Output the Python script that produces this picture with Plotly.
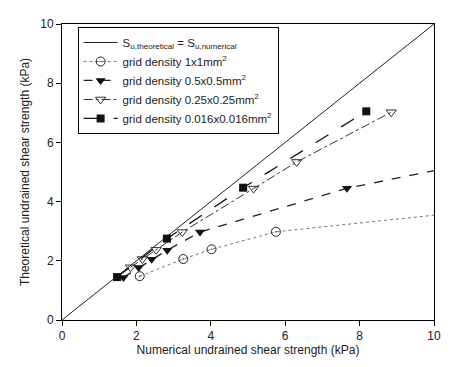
import plotly.graph_objects as go

ref_x = [0, 10]
ref_y = [0, 10]

g1_x = [2.09, 3.26, 4.02, 5.75, 10.6]
g1_y = [1.48, 2.06, 2.39, 2.98, 3.62]

g05_x = [1.65, 2.06, 2.41, 2.83, 3.71, 7.66, 10.6]
g05_y = [1.44, 1.77, 2.05, 2.36, 2.97, 4.45, 5.2]

g025_x = [1.84, 2.16, 2.53, 3.23, 5.15, 6.31, 8.85]
g025_y = [1.78, 2.06, 2.37, 2.97, 4.44, 5.34, 7.02]

g016_x = [1.48, 2.82, 4.87, 8.18]
g016_y = [1.45, 2.75, 4.47, 7.05]

fig = go.Figure()
fig.add_trace(go.Scatter(x=ref_x, y=ref_y, mode="lines",
                         line=dict(color="#222", width=1),
                         name="S<sub>u,theoretical</sub> = S<sub>u,numerical</sub>"))
fig.add_trace(go.Scatter(x=g1_x, y=g1_y, mode="lines+markers",
                         line=dict(color="#777", width=1, dash="dot"),
                         marker=dict(symbol="circle-open-dot", size=9, color="#222", line=dict(width=1)),
                         name="grid density 1x1mm<sup>2</sup>"))
fig.add_trace(go.Scatter(x=g05_x, y=g05_y, mode="lines+markers",
                         line=dict(color="#222", width=1.3, dash="dash"),
                         marker=dict(symbol="triangle-down", size=9, color="#111"),
                         name="grid density 0.5x0.5mm<sup>2</sup>"))
fig.add_trace(go.Scatter(x=g025_x, y=g025_y, mode="lines+markers",
                         line=dict(color="#333", width=1, dash="dashdot"),
                         marker=dict(symbol="triangle-down-open", size=9, color="#333", line=dict(width=1)),
                         name="grid density 0.25x0.25mm<sup>2</sup>"))
fig.add_trace(go.Scatter(x=g016_x, y=g016_y, mode="lines+markers",
                         line=dict(color="#111", width=1.3, dash="longdash"),
                         marker=dict(symbol="square", size=8, color="#111"),
                         name="grid density 0.016x0.016mm<sup>2</sup>"))

axis_common = dict(range=[0, 10], dtick=2, showgrid=False, zeroline=False,
                   showline=True, linecolor="black", linewidth=1, mirror=True,
                   ticks="outside", ticklen=5, tickcolor="black", automargin=False,
                   tickfont=dict(size=12, color="#222"))
fig.update_xaxes(title=dict(text="Numerical undrained shear strength (kPa)", font=dict(size=12, color="#222"), standoff=0),
                 **axis_common)
fig.update_yaxes(title=dict(text="Theoretical undrained shear strength (kPa)", font=dict(size=12, color="#222"), standoff=8),
                 **axis_common)

fig.update_layout(
    width=458, height=351,
    margin=dict(l=54, r=32, t=16, b=39),
    paper_bgcolor="white", plot_bgcolor="white",
    font=dict(family="Liberation Sans, Arial, sans-serif", color="#222"),
    legend=dict(x=0.042, y=0.99, xanchor="left", yanchor="top",
                bordercolor="black", borderwidth=1, bgcolor="white",
                font=dict(size=11.5), tracegroupgap=0, itemwidth=34),
    showlegend=True,
)
fig.write_html("out.html")
